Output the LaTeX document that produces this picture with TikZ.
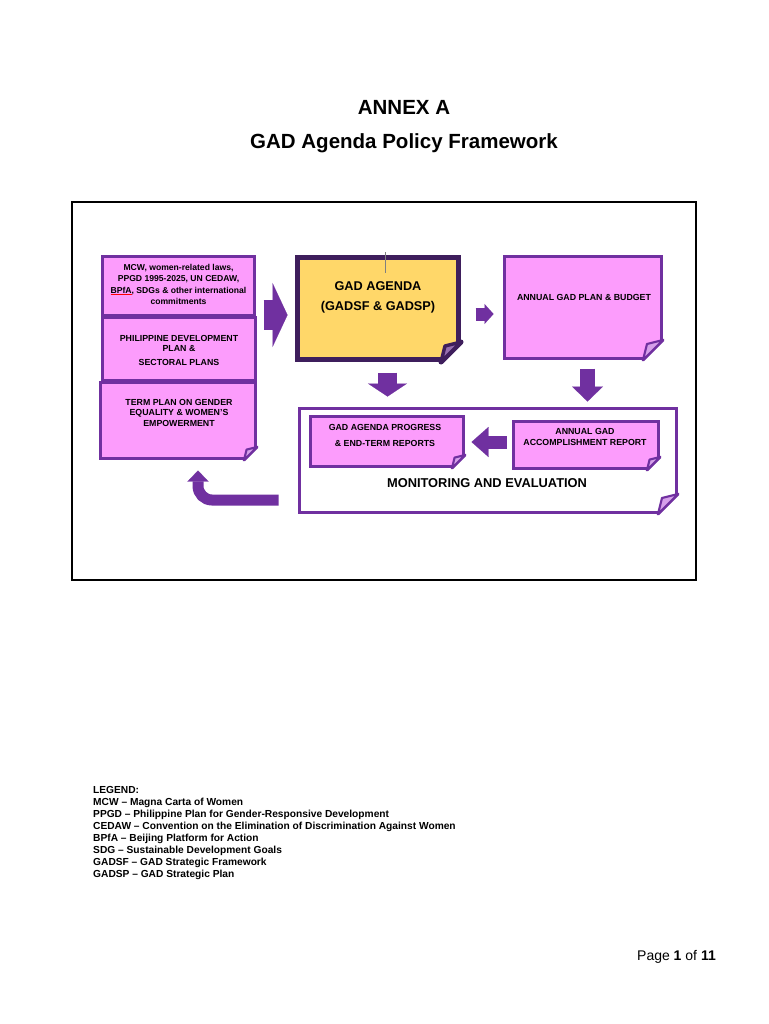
\documentclass[tikz,border=0pt]{standalone}
\usepackage{fontspec}
\setmainfont{Liberation Sans}
\usetikzlibrary{arrows.meta,calc}
\definecolor{mpurple}{RGB}{112,48,160}
\definecolor{mpink}{RGB}{252,156,252}
\definecolor{myellow}{RGB}{255,215,105}
\definecolor{mdark}{RGB}{62,30,92}
\definecolor{mflap}{RGB}{214,160,234}
\definecolor{mflapd}{RGB}{150,110,175}
\newlength\redulw
\newcommand\redul[1]{\settowidth{\redulw}{#1}\rlap{\textcolor{red}{\rule[-1.6pt]{\redulw}{0.6pt}}}#1}
% folded corner: #1 node, #2 size, #3 line width, #4 border colour, #5 flap colour
\newcommand{\foldc}[5]{%
  \coordinate (#1fc) at (#1.south east);
  \fill[white] ($(#1fc)+(-#2pt,0pt)$) -- ($(#1fc)+(0pt,#2pt)$) -- ($(#1fc)+(#3pt,#2pt)$)
     -- ($(#1fc)+(#3pt,-#3pt)$) -- ($(#1fc)+(-#2pt,-#3pt)$) -- cycle;
  \draw[#4, line width=#3pt, line cap=round] ($(#1fc)+(-#2pt,0pt)$) -- ($(#1fc)+(0pt,#2pt)$);
  \draw[#4, line width=0.7*#3pt, line join=round, fill=#5] ($(#1fc)+(-#2pt,0pt)$) -- ($(#1fc)+(0pt,#2pt)$)
     -- ($(#1fc)+(-0.8*#2pt,0.8*#2pt)$) -- cycle;
}
\begin{document}
\begin{tikzpicture}[x=1pt,y=-1pt,
  box/.style={rectangle, draw=mpurple, line width=3pt, fill=mpink, inner sep=0pt},
  txt/.style={align=center, inner sep=0pt},
  blockarr/.style n args={3}{draw=mpurple, line width=#1pt,
     -{Triangle[width=#2pt, length=#3pt, line width=0.1pt]}},
  legline/.style={anchor=base west, inner sep=0pt, font=\bfseries\fontsize{10.2}{12}\selectfont}
]
\fill[white] (0,0) rectangle (768,1024);
\useasboundingbox (0,0) rectangle (768,1024);

% title
\node[anchor=base, inner sep=0pt, font=\bfseries\fontsize{20.5}{24}\selectfont] (annex) at (404,114.3) {ANNEX A};
\node[anchor=base, inner sep=0pt, font=\bfseries\fontsize{20.5}{24}\selectfont] (title) at (404,148.3) {GAD Agenda Policy Framework};

% frame
\node[rectangle, draw=black, line width=2pt, minimum width=624pt, minimum height=378pt, inner sep=0pt] (frame) at (384,391) {};

% left stack
\node[box, minimum width=152pt, minimum height=59pt] (mcw) at (178.5,286) {};
\node[box, minimum width=153pt, minimum height=63pt] (pdp) at (179,349) {};
\node[box, minimum width=155pt, minimum height=76pt] (term) at (178,420.5) {};
\foldc{term}{13}{3}{mpurple}{mflap}

% GAD agenda
\node[box, draw=mdark, fill=myellow, line width=5pt, minimum width=161pt, minimum height=102pt] (gad) at (378,308.5) {};
\foldc{gad}{20}{5}{mdark}{mflapd}
\draw[gray, line width=1pt] ($(gad.north)+(7pt,3pt)$) coordinate (gl1) -- ($(gad.north)+(7pt,-18pt)$) coordinate (gl2);

% annual plan
\node[box, minimum width=157pt, minimum height=102pt] (plan) at (583,307.5) {};
\foldc{plan}{20}{3}{mpurple}{mflap}

% monitoring
\node[box, fill=white, minimum width=377pt, minimum height=104pt] (me) at (488,460.5) {};
\foldc{me}{20}{3}{mpurple}{mflap}
\node[box, minimum width=153pt, minimum height=50pt] (prog) at (387,441.5) {};
\foldc{prog}{13}{3}{mpurple}{mflap}
\node[box, minimum width=145pt, minimum height=47pt] (acc) at (586,445) {};
\foldc{acc}{13}{3}{mpurple}{mflap}

% texts
\node[txt, font=\bfseries\fontsize{8.6}{11.3}\selectfont] (mcwt) at (178.5,284.5)
  {MCW, women-related laws,\\PPGD 1995-2025, UN CEDAW,\\\redul{BPfA}, SDGs \& other international\\commitments};
\node[txt, font=\bfseries\fontsize{8.8}{10}\selectfont] (pdpt) at (179,350.5)
  {PHILIPPINE DEVELOPMENT\\PLAN \&\\[4.5pt]SECTORAL PLANS};
\node[txt, font=\bfseries\fontsize{8.8}{10.5}\selectfont] (termt) at (179,412.5)
  {TERM PLAN ON GENDER\\EQUALITY \& WOMEN'S\\EMPOWERMENT};
\node[txt, font=\bfseries\fontsize{12.7}{20}\selectfont] (gadt) at (378,297)
  {GAD AGENDA\\(GADSF \& GADSP)};
\node[txt, font=\bfseries\fontsize{8.8}{10}\selectfont] (plant) at (584,297)
  {ANNUAL GAD PLAN \& BUDGET};
\node[txt, font=\bfseries\fontsize{8.8}{16}\selectfont] (progt) at (385,435)
  {GAD AGENDA PROGRESS\\\& END-TERM REPORTS};
\node[txt, font=\bfseries\fontsize{8.8}{11}\selectfont] (acct) at (585,436.5)
  {ANNUAL GAD\\ACCOMPLISHMENT REPORT};
\node[txt, font=\bfseries\fontsize{12.85}{15}\selectfont] (met) at (487,483)
  {MONITORING AND EVALUATION};

% block arrows
\draw[blockarr={30}{64}{15}] ($(pdp.east |- gad.west)+(6.5pt,-6.5pt)$) -- ($(gad.west)+(-7.5pt,-6.5pt)$);
\draw[blockarr={13}{20}{9}] ($(gad.east)+(14.5pt,-5.5pt)$) -- ($(plan.west |- gad.east)+(-9.5pt,-5.5pt)$);
\draw[blockarr={19}{39}{13}] ($(gad.south)+(9.5pt,-10.5pt)$) -- ($(gad.south |- me.north)+(9.5pt,10.5pt)$);
\draw[blockarr={15}{31}{15}] ($(plan.south)+(4.5pt,-8.5pt)$) -- ($(plan.south |- me.north)+(4.5pt,5.5pt)$);
\draw[blockarr={13}{30}{17}] ($(acc.west)+(-5.5pt,3pt)$) -- ($(prog.east |- acc.west)+(6.5pt,3pt)$);
\draw[blockarr={11}{21}{11}, rounded corners=14pt] ($(me.west)+(-19.5pt,-39.5pt)$) -| ($(term.south)+(20pt,-10.5pt)$);

% legend
\foreach \t [count=\i] in {LEGEND:, MCW – Magna Carta of Women,
  PPGD – Philippine Plan for Gender-Responsive Development,
  CEDAW – Convention on the Elimination of Discrimination Against Women,
  BPfA – Beijing Platform for Action,
  SDG – Sustainable Development Goals,
  GADSF – GAD Strategic Framework,
  GADSP – GAD Strategic Plan}
  \node[legline] (leg\i) at (93,781.7+12*\i) {\t};

% footer
\node[anchor=base east, inner sep=0pt, font=\fontsize{14}{16}\selectfont] (page) at (716,960) {Page \textbf{1} of \textbf{11}};
\end{tikzpicture}
\end{document}
